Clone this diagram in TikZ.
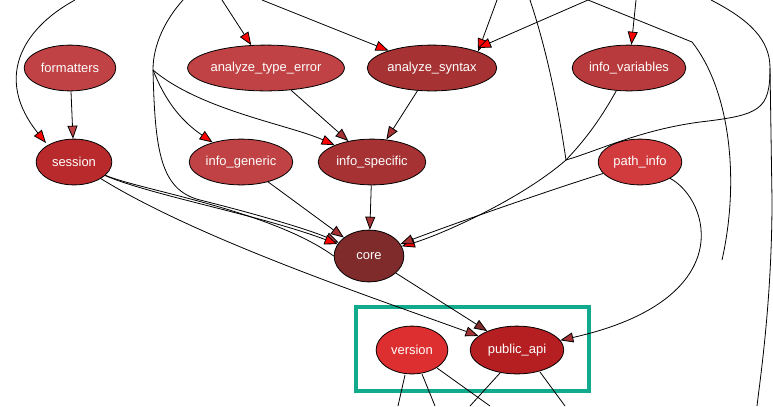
\documentclass[tikz,border=0pt]{standalone}
\usepackage{fontspec}
\setmainfont{Liberation Sans}
\usetikzlibrary{shapes.geometric,arrows.meta}
\begin{document}
\begin{tikzpicture}[x=1bp,y=-1bp,
  nd/.style={ellipse,draw=black,line width=0.8bp,text=white,inner sep=0,
    font=\fontsize{13}{15}\selectfont},
  e/.style={draw=black,line width=0.8bp},
  a/.style={e,-{Triangle[length=13bp,width=10bp,fill=#1]}},
  a/.default={red}]
\useasboundingbox (0,0) rectangle (773,406);
\definecolor{c1}{HTML}{C04244}
\definecolor{c2}{HTML}{A63234}
\definecolor{c3}{HTML}{B83A3C}
\definecolor{c4}{HTML}{B82A2C}
\definecolor{c5}{HTML}{D13B3D}
\definecolor{c6}{HTML}{7F2A2B}
\definecolor{c7}{HTML}{DD2E30}
\definecolor{c8}{HTML}{B51F22}
\definecolor{box}{HTML}{12AA8C}
\node[nd,fill=c1,minimum width=92,minimum height=46] (fmt) at (70,68) {formatters};
\node[nd,fill=c1,minimum width=152,minimum height=46] (ate) at (266,68) {analyze\_type\_error};
\node[nd,fill=c2,minimum width=130,minimum height=46] (as) at (432,68) {analyze\_syntax};
\node[nd,fill=c3,minimum width=114,minimum height=46] (iv) at (629,68) {info\_variables};
\node[nd,fill=c4,minimum width=76,minimum height=46] (ses) at (74,162) {session};
\node[nd,fill=c1,minimum width=104,minimum height=46] (ig) at (241,162) {info\_generic};
\node[nd,fill=c2,minimum width=108,minimum height=46] (is) at (372,162) {info\_specific};
\node[nd,fill=c5,minimum width=84,minimum height=46] (pi) at (640,162) {path\_info};
\node[nd,fill=c6,minimum width=70,minimum height=52] (core) at (369,256) {core};
\node[nd,fill=c7,minimum width=72,minimum height=48] (ver) at (412,350) {version};
\node[nd,fill=c8,minimum width=94,minimum height=48] (pub) at (517,350) {public\_api};
\draw[box,line width=4bp] (356,307) rectangle (589,391);
\coordinate (t1) at (75,0); \coordinate (t2) at (183,0); \coordinate (t3) at (222,0);
\coordinate (t4) at (262,0); \coordinate (t5) at (497,0); \coordinate (t6) at (588,0);
\coordinate (t7) at (530,0); \coordinate (t8) at (711,0); \coordinate (t9) at (636,0);
\coordinate (g1) at (153,70); \coordinate (g2) at (566,160); \coordinate (g3) at (770,68);
\draw[a] (t1) .. controls (20,30) and (-5,80) .. (46,143);
\draw[a=c1] (fmt) -- (ses);
\draw[e] (t2) .. controls (165,20) and (153,45) .. (g1);
\draw[a] (g1) .. controls (165,100) and (180,120) .. (ig);
\draw[a] (g1) .. controls (200,110) and (290,125) .. (is);
\draw[a=c1] (g1) .. controls (155,150) and (160,190) .. (200,200) .. controls (260,215) and (310,230) .. (core);
\draw[a] (t3) -- (ate);
\draw[a] (t4) -- (as);
\draw[a] (t5) -- (as.north east);
\draw[a] (t6) -- (478,48);
\draw[a] (t9) -- (iv);
\draw[a=c2] (ate) -- (is);
\draw[a=c2] (as) -- (is);
\draw[a=c2] (is) -- (core);
\draw[a=c2] (ig) -- (core);
\draw[a] (ses) .. controls (150,195) and (260,215) .. (core);
\draw[e] (ses) .. controls (140,190) and (270,210) .. (core.west);
\draw[a=c2] (ses) .. controls (200,240) and (380,300) .. (pub);
\draw[a=c6] (core) -- (pub);
\draw[e] (t7) .. controls (550,60) and (560,120) .. (g2);
\draw[e] (iv) .. controls (600,120) and (585,140) .. (g2);
\draw[a] (g2) .. controls (520,200) and (440,235) .. (core);
\draw[e] (t8) .. controls (750,20) and (770,40) .. (g3);
\draw[e] (g3) .. controls (770,110) and (760,115) .. (700,122) .. controls (640,130) and (600,150) .. (g2);
\draw[e] (g3) -- (772,200) .. controls (772,300) and (760,380) .. (757,406);
\draw[a=c2] (pi) .. controls (550,190) and (450,225) .. (core);
\draw[e] (t6) -- (692,42) .. controls (730,90) and (740,180) .. (722,260);
\draw[a=c2] (pi) .. controls (710,200) and (740,300) .. (pub);
\coordinate (b1) at (398,406); \coordinate (b2) at (435,406); \coordinate (b3) at (490,406);
\coordinate (b4) at (470,406); \coordinate (b5) at (565,406);
\draw[e] (405,375) -- (b1);
\draw[e] (422,374) -- (b2);
\draw[e] (437,368) -- (b3);
\draw[e] (500,373) -- (b4);
\draw[e] (540,372) -- (b5);
\end{tikzpicture}
\end{document}
